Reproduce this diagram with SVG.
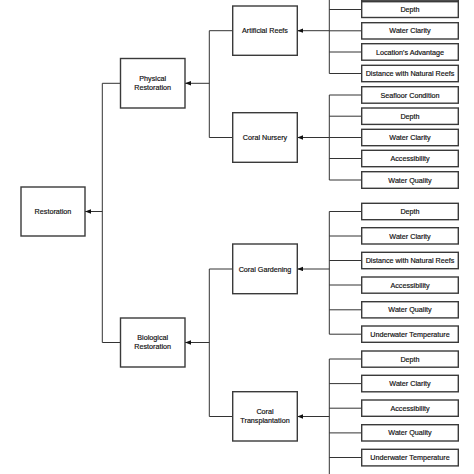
<svg xmlns="http://www.w3.org/2000/svg" width="474" height="474" viewBox="0 0 474 474">
<style>
.box{fill:#fff;stroke:#3a3a3a;stroke-width:1.4}
.ln{fill:none;stroke:#333;stroke-width:1}
.arr{fill:none;stroke:#333;stroke-width:1;marker-end:url(#ah)}
text{font-family:"Liberation Sans",Arial,sans-serif;font-size:7.2px;fill:#111;stroke:#111;stroke-width:0.18;text-anchor:middle;dominant-baseline:central}
</style>
<defs>
<marker id="ah" markerUnits="userSpaceOnUse" markerWidth="6" markerHeight="5" refX="6" refY="2.25" orient="auto">
<path d="M0,0 L6,2.25 L0,4.5 z" fill="#111"/>
</marker>
</defs>
<rect width="474" height="474" fill="#fff"/>
<g id="connectors">
<path class="ln" d="M102.3,83.3 V342.5 M102.3,83.3 H120.5 M102.3,342.5 H120.5"/>
<path class="arr" d="M102.3,211.5 H85"/>
<path class="ln" d="M209.3,30.7 V137.5 M209.3,30.7 H232.7 M209.3,137.5 H232.7"/>
<path class="arr" d="M209.3,83.3 H185"/>
<path class="ln" d="M209.3,269 V416.5 M209.3,269 H232.7 M209.3,416.5 H232.7"/>
<path class="arr" d="M209.3,342.5 H185"/>
<path class="ln" d="M329.3,0 V73.5 M329.3,9.5 H361.7 M329.3,30.8 H361.7 M329.3,52 H361.7 M329.3,73.5 H361.7"/>
<path class="arr" d="M329.3,30.7 H297.3"/>
<path class="ln" d="M329.3,95 V180 M329.3,95 H361.7 M329.3,116.2 H361.7 M329.3,137.5 H361.7 M329.3,158.5 H361.7 M329.3,180 H361.7"/>
<path class="arr" d="M329.3,137.5 H297.3"/>
<path class="ln" d="M329.3,211.5 V334.2 M329.3,211.5 H361.7 M329.3,236 H361.7 M329.3,260.5 H361.7 M329.3,285 H361.7 M329.3,309.8 H361.7 M329.3,334.2 H361.7"/>
<path class="arr" d="M329.3,269 H297.3"/>
<path class="ln" d="M329.3,359 V474 M329.3,359 H361.7 M329.3,383.6 H361.7 M329.3,408.2 H361.7 M329.3,432.9 H361.7 M329.3,457.5 H361.7"/>
<path class="arr" d="M329.3,416.5 H297.3"/>
</g>
<g id="restoration"><rect class="box" x="21" y="187" width="64" height="49"/><text x="53" y="211.5">Restoration</text></g>
<g id="physical"><rect class="box" x="120.5" y="58.5" width="64.5" height="49.5"/><text x="152.7" y="78">Physical</text><text x="152.7" y="87.2">Restoration</text></g>
<g id="biological"><rect class="box" x="120.5" y="318" width="64.5" height="49"/><text x="152.7" y="337.6">Biological</text><text x="152.7" y="346.8">Restoration</text></g>
<g id="artificial-reefs"><rect class="box" x="232.7" y="6" width="64.6" height="49.3"/><text x="265" y="30.7">Artificial Reefs</text></g>
<g id="coral-nursery"><rect class="box" x="232.7" y="112.7" width="64.6" height="49.6"/><text x="265" y="137.5">Coral Nursery</text></g>
<g id="coral-gardening"><rect class="box" x="232.7" y="244" width="64.6" height="49.7"/><text x="265" y="269">Coral Gardening</text></g>
<g id="coral-transplantation"><rect class="box" x="232.7" y="391.7" width="64.6" height="49.3"/><text x="265" y="411.5">Coral</text><text x="265" y="420.8">Transplantation</text></g>
<g id="ar-leaves">
<rect class="box" x="361.7" y="-16" width="96.6" height="16.8"/>
<g id="ar-depth"><rect class="box" x="361.7" y="1.7" width="96.6" height="15.8"/><text x="410" y="9.6">Depth</text></g>
<g id="ar-clarity"><rect class="box" x="361.7" y="22.7" width="96.6" height="16.3"/><text x="410" y="30.9">Water Clarity</text></g>
<g id="ar-location"><rect class="box" x="361.7" y="43.7" width="96.6" height="16.5"/><text x="410" y="52">Location's Advantage</text></g>
<g id="ar-distance"><rect class="box" x="361.7" y="65.3" width="96.6" height="16.4"/><text x="410" y="73.5">Distance with Natural Reefs</text></g>
</g>
<g id="cn-leaves">
<g id="cn-seafloor"><rect class="box" x="361.7" y="86.7" width="96.6" height="16.5"/><text x="410" y="95">Seafloor Condition</text></g>
<g id="cn-depth"><rect class="box" x="361.7" y="108" width="96.6" height="16.4"/><text x="410" y="116.2">Depth</text></g>
<g id="cn-clarity"><rect class="box" x="361.7" y="129.3" width="96.6" height="16.4"/><text x="410" y="137.5">Water Clarity</text></g>
<g id="cn-access"><rect class="box" x="361.7" y="150.3" width="96.6" height="16.4"/><text x="410" y="158.5">Accessibility</text></g>
<g id="cn-quality"><rect class="box" x="361.7" y="171.7" width="96.6" height="16.6"/><text x="410" y="180">Water Quality</text></g>
</g>
<g id="cg-leaves">
<g id="cg-depth"><rect class="box" x="361.7" y="203.3" width="96.6" height="16.4"/><text x="410" y="211.5">Depth</text></g>
<g id="cg-clarity"><rect class="box" x="361.7" y="227.7" width="96.6" height="16.3"/><text x="410" y="236">Water Clarity</text></g>
<g id="cg-distance"><rect class="box" x="361.7" y="252.3" width="96.6" height="16.4"/><text x="410" y="260.5">Distance with Natural Reefs</text></g>
<g id="cg-access"><rect class="box" x="361.7" y="277" width="96.6" height="16.2"/><text x="410" y="285">Accessibility</text></g>
<g id="cg-quality"><rect class="box" x="361.7" y="301.7" width="96.6" height="16.2"/><text x="410" y="309.8">Water Quality</text></g>
<g id="cg-temp"><rect class="box" x="361.7" y="326" width="96.6" height="16.3"/><text x="410" y="334.2">Underwater Temperature</text></g>
</g>
<g id="ct-leaves">
<g id="ct-depth"><rect class="box" x="361.7" y="351" width="96.6" height="16.2"/><text x="410" y="359">Depth</text></g>
<g id="ct-clarity"><rect class="box" x="361.7" y="375.3" width="96.6" height="16.5"/><text x="410" y="383.6">Water Clarity</text></g>
<g id="ct-access"><rect class="box" x="361.7" y="400" width="96.6" height="16.3"/><text x="410" y="408.2">Accessibility</text></g>
<g id="ct-quality"><rect class="box" x="361.7" y="424.7" width="96.6" height="16.3"/><text x="410" y="432.9">Water Quality</text></g>
<g id="ct-temp"><rect class="box" x="361.7" y="449.3" width="96.6" height="16.6"/><text x="410" y="457.5">Underwater Temperature</text></g>
</g>
</svg>
